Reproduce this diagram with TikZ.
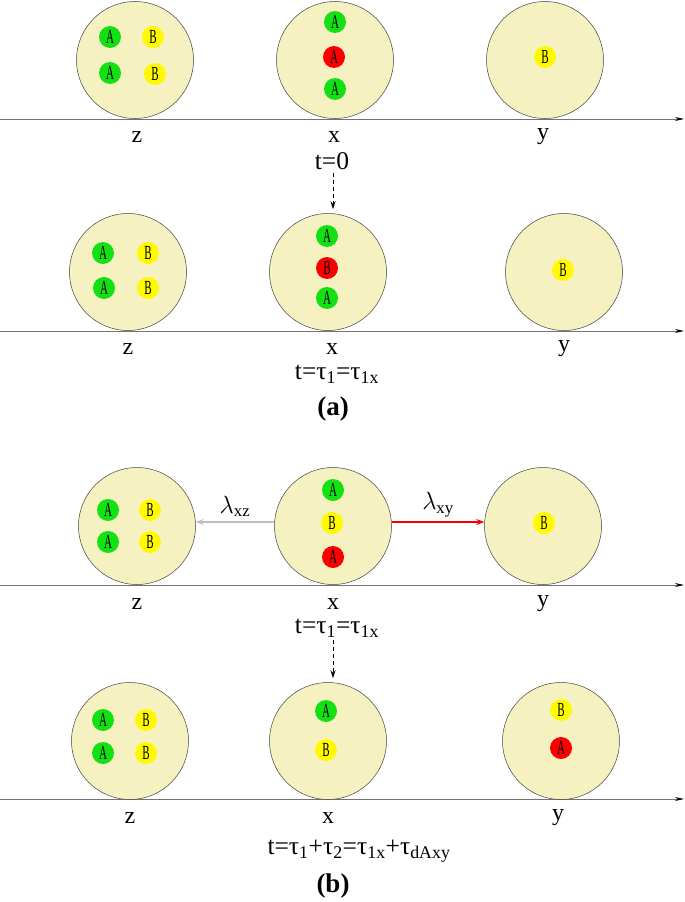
\documentclass[tikz,border=0pt]{standalone}
\usepackage{graphicx}
\usepackage{fontspec}
\setmainfont{Liberation Serif}
\usetikzlibrary{arrows.meta}

\definecolor{cellfill}{RGB}{246,241,192}
\definecolor{ballgreen}{RGB}{20,225,20}
\definecolor{ballyellow}{RGB}{255,250,0}
\definecolor{ballred}{RGB}{250,0,0}
\definecolor{rateline}{RGB}{190,190,190}

\newcommand{\balltext}{\fontsize{20}{20}\selectfont}
\newcommand{\labtext}{\fontsize{24}{26}\selectfont}
\newcommand{\timetext}{\fontsize{25.5}{27}\selectfont}
\newcommand{\nw}[1]{\scalebox{0.55}[1]{#1}}

\begin{document}
\begin{tikzpicture}[x=1pt, y=-1pt, >=Stealth,
    cell/.style={circle, draw=black!75, line width=0.5pt, fill=cellfill, minimum size=117pt, inner sep=0pt},
    ball/.style={circle, minimum size=22pt, inner sep=0pt, font=\balltext},
    ballA/.style={ball, fill=ballgreen},
    ballB/.style={ball, fill=ballyellow},
    ballR/.style={ball, fill=ballred},
    axis/.style={draw=black!55, line width=0.8pt, -{Stealth[length=9pt, width=4pt, black]}},
    lab/.style={font=\labtext, inner sep=1pt},
    timelab/.style={font=\timetext, inner sep=1pt},
    rate/.style={font=\fontsize{24}{26}\selectfont, black, above=1pt},
    step arrow/.style={dashed, dash pattern=on 4pt off 3pt, line width=0.9pt,
        -{Stealth[length=8pt, width=5pt]}, shorten <=2pt, shorten >=4pt},
  ]
    \useasboundingbox (0,0) rectangle (685,902);

    % axes
    \coordinate (L1) at (0,119);  \coordinate (R1) at (684,119);
    \coordinate (L2) at (0,331);  \coordinate (R2) at (684,331);
    \coordinate (L3) at (0,585);  \coordinate (R3) at (684,585);
    \coordinate (L4) at (0,799);  \coordinate (R4) at (684,799);
    \draw[axis] (L1) -- (R1);
    \draw[axis] (L2) -- (R2);
    \draw[axis] (L3) -- (R3);
    \draw[axis] (L4) -- (R4);

    % t = 0
    \node[cell] (z1) at (135,60) {};
    \node[cell] (x1) at (335,60) {};
    \node[cell] (y1) at (545,60) {};
    \node[ballA] (z1a) at (110,37) {\nw{A}};
    \node[ballB] (z1b) at (153,37) {\nw{B}};
    \node[ballA] (z1c) at (110,73) {\nw{A}};
    \node[ballB] (z1d) at (155,74) {\nw{B}};
    \node[ballA] (x1a) at (335,22) {\nw{A}};
    \node[ballR] (x1b) at (334,57) {\nw{A}};
    \node[ballA] (x1c) at (335,89) {\nw{A}};
    \node[ballB] (y1a) at (545,57) {\nw{B}};
    \node[lab] (z1l) at (137,137) {z};
    \node[lab] (x1l) at (334,137) {x};
    \node[lab] (y1l) at (543,137) {y};
    \node[timelab] (t1) at (332,161) {t=0};

    % t = tau_1
    \node[cell] (z2) at (128,272) {};
    \node[cell] (x2) at (328,272) {};
    \node[cell] (y2) at (564,272) {};
    \node[ballA] (z2a) at (103,253) {\nw{A}};
    \node[ballB] (z2b) at (148,253) {\nw{B}};
    \node[ballA] (z2c) at (104,288) {\nw{A}};
    \node[ballB] (z2d) at (148,288) {\nw{B}};
    \node[ballA] (x2a) at (327,236) {\nw{A}};
    \node[ballR] (x2b) at (327,268) {\nw{B}};
    \node[ballA] (x2c) at (327,298) {\nw{A}};
    \node[ballB] (y2a) at (563,270) {\nw{B}};
    \node[lab] (z2l) at (128,349) {z};
    \node[lab] (x2l) at (332,349) {x};
    \node[lab] (y2l) at (564,349) {y};
    \node[timelab] (t2) at (337,374) {t=τ\textsubscript{1}=τ\textsubscript{1x}};
    \node[lab, font=\fontsize{27}{29}\selectfont\bfseries] (capa) at (333,409) {(a)};
    \draw[step arrow] (t1.south -| 333,0) -- (x2.north -| 333,0);

    % transfer
    \node[cell] (z3) at (137,526) {};
    \node[cell] (x3) at (333,526) {};
    \node[cell] (y3) at (543,526) {};
    \node[ballA] (z3a) at (108,510) {\nw{A}};
    \node[ballB] (z3b) at (150,510) {\nw{B}};
    \node[ballA] (z3c) at (108,542) {\nw{A}};
    \node[ballB] (z3d) at (150,542) {\nw{B}};
    \node[ballA] (x3a) at (333,490) {\nw{A}};
    \node[ballB] (x3b) at (332,523) {\nw{B}};
    \node[ballR] (x3c) at (333,557) {\nw{A}};
    \node[ballB] (y3a) at (544,523) {\nw{B}};
    \draw[rateline, line width=1.6pt, -{Stealth[length=8pt, width=6pt]}] (x3.west |- 0,522) -- (z3.east |- 0,522)
        node[midway, rate] (lxz) {$\lambda_{\mathrm{xz}}$};
    \draw[ballred, line width=1.3pt, -{Stealth[length=8pt, width=6pt]}] (x3.east |- 0,522) -- (y3.west |- 0,522)
        node[midway, rate] (lxy) {$\lambda_{\mathrm{xy}}$};
    \node[lab] (z3l) at (137,604) {z};
    \node[lab] (x3l) at (333,604) {x};
    \node[lab] (y3l) at (543,604) {y};
    \node[timelab] (t3) at (337,628) {t=τ\textsubscript{1}=τ\textsubscript{1x}};

    % t = tau_1 + tau_2
    \node[cell] (z4) at (130,741) {};
    \node[cell] (x4) at (328,741) {};
    \node[cell] (y4) at (561,741) {};
    \node[ballA] (z4a) at (103,720) {\nw{A}};
    \node[ballB] (z4b) at (146,720) {\nw{B}};
    \node[ballA] (z4c) at (103,753) {\nw{A}};
    \node[ballB] (z4d) at (146,753) {\nw{B}};
    \node[ballA] (x4a) at (326,711) {\nw{A}};
    \node[ballB] (x4b) at (326,750) {\nw{B}};
    \node[ballB] (y4a) at (561,710) {\nw{B}};
    \node[ballR] (y4b) at (561,748) {\nw{A}};
    \node[lab] (z4l) at (130,818) {z};
    \node[lab] (x4l) at (328,818) {x};
    \node[lab] (y4l) at (558,818) {y};
    \node[timelab] (t4) at (359,851) {t=τ\textsubscript{1}+τ\textsubscript{2}=τ\textsubscript{1x}+τ\textsubscript{dAxy}};
    \node[lab, font=\fontsize{27}{29}\selectfont\bfseries] (capb) at (333,886) {(b)};
    \draw[step arrow] (t3.south -| 333,0) -- (x4.north -| 333,0);
\end{tikzpicture}
\end{document}
